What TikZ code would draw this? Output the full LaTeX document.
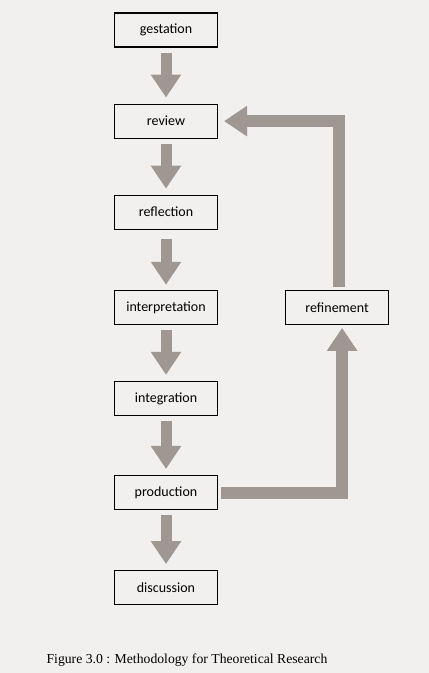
\documentclass[tikz,border=0pt]{standalone}
\usepackage{fontspec}
\setmainfont{Liberation Serif}
\newfontfamily\boxfont{Carlito}
\usepackage{xcolor}
\usetikzlibrary{arrows.meta,positioning}
\definecolor{bggrey}{RGB}{241,240,238}
\definecolor{arrowgrey}{RGB}{158,151,146}
\tikzstyle{blockarrow} = [line width=11pt,draw=arrowgrey,-{Triangle[width=29pt,length=23pt]},shorten <=5pt,shorten >=6pt]

\begin{document}
\begin{tikzpicture}[x=1pt, y=-1pt, node distance=56pt, every node/.style={draw, rectangle, fill=bggrey, line width=1.1pt, minimum width=103pt, minimum height=34pt, font=\boxfont\fontsize{14}{16}\selectfont}]
        \useasboundingbox[fill=bggrey] (0,0) rectangle (429,673);
        % 主流程
        \node (gestation) at (166,30) {gestation};
        \node (review) [below=56pt of gestation] {review};
        \node (reflection) [below=56pt of review] {reflection};
        \node (interpretation) [below=60pt of reflection] {interpretation};
        \node (integration) [below=56pt of interpretation] {integration};
        \node (production) [below=59pt of integration] {production};
        \node (discussion) [below=60pt of production] {discussion};
        % 反馈
        \node (refinement) [right=67pt of interpretation] {refinement};
        % 图题
        \node (caption) [below=45pt of discussion, xshift=21pt, draw=none, minimum width=0pt, minimum height=0pt, font=\fontsize{13.7}{16}\selectfont] {Figure 3.0 : Methodology for Theoretical Research};

        % 连线
        \draw[blockarrow] (gestation.south) -- (review.north);
        \draw[blockarrow] (review.south) -- (reflection.north);
        \draw[blockarrow, shorten <=9pt, shorten >=5pt] (reflection.south) -- (interpretation.north);
        \draw[blockarrow] (interpretation.south) -- (integration.north);
        \draw[blockarrow] (integration.south) -- (production.north);
        \draw[blockarrow] (production.south) -- (discussion.north);

        \draw[blockarrow, line width=12pt, shorten <=3pt, shorten >=3pt] (production.east) -| ([xshift=5pt]refinement.south);
        \draw[blockarrow, line width=12pt, shorten <=3pt] ([xshift=2pt]refinement.north) |- (review.east);
    \end{tikzpicture}
\end{document}
